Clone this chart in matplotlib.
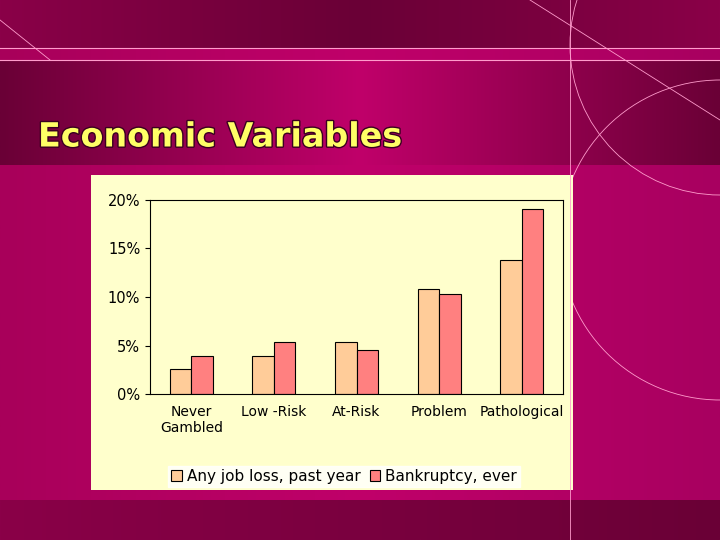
import numpy as np
import matplotlib.pyplot as plt
from matplotlib.patches import Rectangle, Arc
from matplotlib.colors import LinearSegmentedColormap
import matplotlib.patheffects as pe

categories = ['Never\nGambled', 'Low -Risk', 'At-Risk', 'Problem', 'Pathological']
job_loss = [2.6, 3.9, 5.4, 10.8, 13.8]
bankruptcy = [3.9, 5.4, 4.5, 10.3, 19.1]
series_names = ['Any job loss, past year', 'Bankruptcy, ever']

fig = plt.figure(figsize=(7.2, 5.4), dpi=100)

# slide background
bg = fig.add_axes([0, 0, 1, 1])
bg.set_xlim(0, 720)
bg.set_ylim(540, 0)
bg.axis('off')
grad = np.linspace(0, 1, 256)[None, :]
main_cm = LinearSegmentedColormap.from_list('m', ['#a8005a', '#c0006a', '#a80060'])
bg.imshow(grad, cmap=main_cm, extent=[0, 720, 540, 0], aspect='auto')
top_cm = LinearSegmentedColormap.from_list('t', ['#8a0048', '#6a0036', '#8a0048'])
bg.imshow(grad, cmap=top_cm, extent=[0, 720, 48, 0], aspect='auto')
band_cm = LinearSegmentedColormap.from_list('b', ['#6a0036', '#c0006a', '#6a0036'])
bg.imshow(grad, cmap=band_cm, extent=[0, 720, 165, 60], aspect='auto')
bottom_cm = LinearSegmentedColormap.from_list('bt', ['#8a0048', '#6a0036'])
bg.imshow(grad, cmap=bottom_cm, extent=[0, 720, 540, 500], aspect='auto')
bg.plot([0, 720], [48, 48], color='#ff9ccc', lw=0.8)
bg.plot([0, 720], [60, 60], color='#ff9ccc', lw=0.8)
bg.plot([570, 570], [0, 540], color='#ff9ccc', lw=0.6)
bg.plot([530, 720], [0, 120], color='#ff9ccc', lw=0.6)
bg.plot([0, 50], [20, 60], color='#ff9ccc', lw=0.6)
bg.add_patch(Arc((720, 45), 300, 300, theta1=90, theta2=270, color='#ff9ccc', lw=0.6))
bg.add_patch(Arc((720, 240), 320, 320, theta1=90, theta2=270, color='#ff9ccc', lw=0.6))
bg.add_patch(Arc((570, 540), 300, 60, theta1=0, theta2=180, color='#ff9ccc', lw=0.6))
bg.text(38, 137, 'Economic Variables', color='#ffff66', fontsize=24, fontweight='bold',
        va='center', ha='left',
        path_effects=[pe.withStroke(linewidth=2, foreground='#3a0020')])
bg.add_patch(Rectangle((91, 175), 482, 315, facecolor='#ffffcc', edgecolor='none'))

# chart
ax = fig.add_axes([150 / 720, 1 - 394 / 540, 413 / 720, 194 / 540])
ax.set_facecolor('#ffffcc')
x = np.arange(len(categories))
w = 0.26
ax.bar(x - w / 2, job_loss, w, color='#ffcc99', edgecolor='black', linewidth=0.8, label=series_names[0])
ax.bar(x + w / 2, bankruptcy, w, color='#ff8080', edgecolor='black', linewidth=0.8, label=series_names[1])
ax.set_ylim(0, 20)
ax.set_yticks([0, 5, 10, 15, 20])
ax.set_yticklabels(['0%', '5%', '10%', '15%', '20%'], fontsize=10.5)
ax.set_xlim(-0.5, 4.5)
ax.set_xticks(x)
ax.set_xticklabels(categories, fontsize=10)
ax.tick_params(axis='x', length=0, pad=8)
for s in ax.spines.values():
    s.set_linewidth(0.8)
leg = ax.legend(loc='upper center', bbox_to_anchor=(0.47, -0.33), ncol=2, frameon=True,
                fancybox=False, edgecolor='white', facecolor='white', fontsize=11,
                handlelength=0.7, handletextpad=0.3, columnspacing=0.6, borderpad=0.2)

fig.savefig('out.png', dpi=100)
